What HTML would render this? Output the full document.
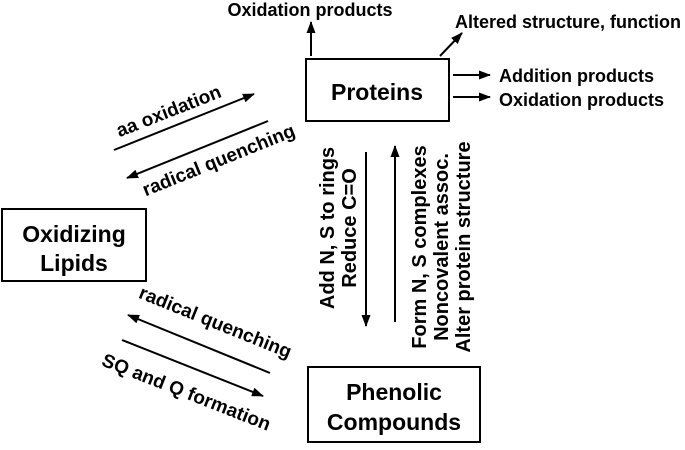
<!DOCTYPE html>
<html><head><meta charset="utf-8"><style>
html,body{margin:0;padding:0;background:#fff}
svg text{font-family:"Liberation Sans",Arial,sans-serif;font-weight:bold;fill:#000}
</style></head><body>
<svg width="685" height="445" viewBox="0 0 685 445" xmlns="http://www.w3.org/2000/svg">
<defs><marker id="a" markerWidth="12" markerHeight="9" refX="11" refY="4.5" orient="auto" markerUnits="userSpaceOnUse"><path d="M0,0 L12,4.5 L0,9 Z" fill="#000"/></marker></defs>
<g stroke="#000" stroke-width="2" fill="none">
<rect x="306" y="59" width="143" height="62" fill="#fff"/>
<rect x="2" y="209" width="144" height="72" fill="#fff"/>
<rect x="308" y="367" width="172" height="75" fill="#fff"/>
<line x1="311" y1="56" x2="311" y2="22" marker-end="url(#a)"/>
<line x1="440" y1="56" x2="462" y2="33" marker-end="url(#a)"/>
<line x1="453" y1="75" x2="490" y2="75" marker-end="url(#a)"/>
<line x1="453" y1="97" x2="490" y2="97" marker-end="url(#a)"/>
<line x1="114" y1="150" x2="254" y2="94" marker-end="url(#a)"/>
<line x1="268" y1="121" x2="127" y2="178" marker-end="url(#a)"/>
<line x1="366" y1="152" x2="366" y2="326" marker-end="url(#a)"/>
<line x1="395" y1="322" x2="395" y2="146" marker-end="url(#a)"/>
<line x1="270" y1="373" x2="128" y2="315" marker-end="url(#a)"/>
<line x1="122" y1="340" x2="263" y2="396" marker-end="url(#a)"/>
</g>
<text x="310" y="16" font-size="18" text-anchor="middle">Oxidation products</text>
<text x="455" y="28" font-size="18">Altered structure, function</text>
<text x="499" y="82" font-size="18">Addition products</text>
<text x="499" y="106" font-size="18">Oxidation products</text>
<text x="377" y="100" font-size="23" text-anchor="middle">Proteins</text>
<text x="74" y="242" font-size="23" text-anchor="middle">Oxidizing</text>
<text x="74" y="271" font-size="23" text-anchor="middle">Lipids</text>
<text x="394" y="400" font-size="23" text-anchor="middle">Phenolic</text>
<text x="394" y="430" font-size="23" text-anchor="middle">Compounds</text>
<text transform="translate(171,117) rotate(-21.5)" font-size="19" text-anchor="middle">aa oxidation</text>
<text transform="translate(221,166) rotate(-22)" font-size="19" text-anchor="middle">radical quenching</text>
<text transform="translate(213,328) rotate(22)" font-size="19" text-anchor="middle">radical quenching</text>
<text transform="translate(184,398) rotate(21.5)" font-size="19" text-anchor="middle">SQ and Q formation</text>
<g transform="translate(334,228) rotate(-90)">
<text x="0" y="0" font-size="20" text-anchor="middle">Add N, S to rings</text>
<text x="0" y="22" font-size="20" text-anchor="middle">Reduce C=O</text>
</g>
<g transform="translate(426,247) rotate(-90)">
<text x="0" y="0" font-size="20" text-anchor="middle">Form N, S complexes</text>
<text x="0" y="22" font-size="20" text-anchor="middle">Noncovalent assoc.</text>
<text x="0" y="44" font-size="20" text-anchor="middle">Alter protein structure</text>
</g>
</svg>
</body></html>
